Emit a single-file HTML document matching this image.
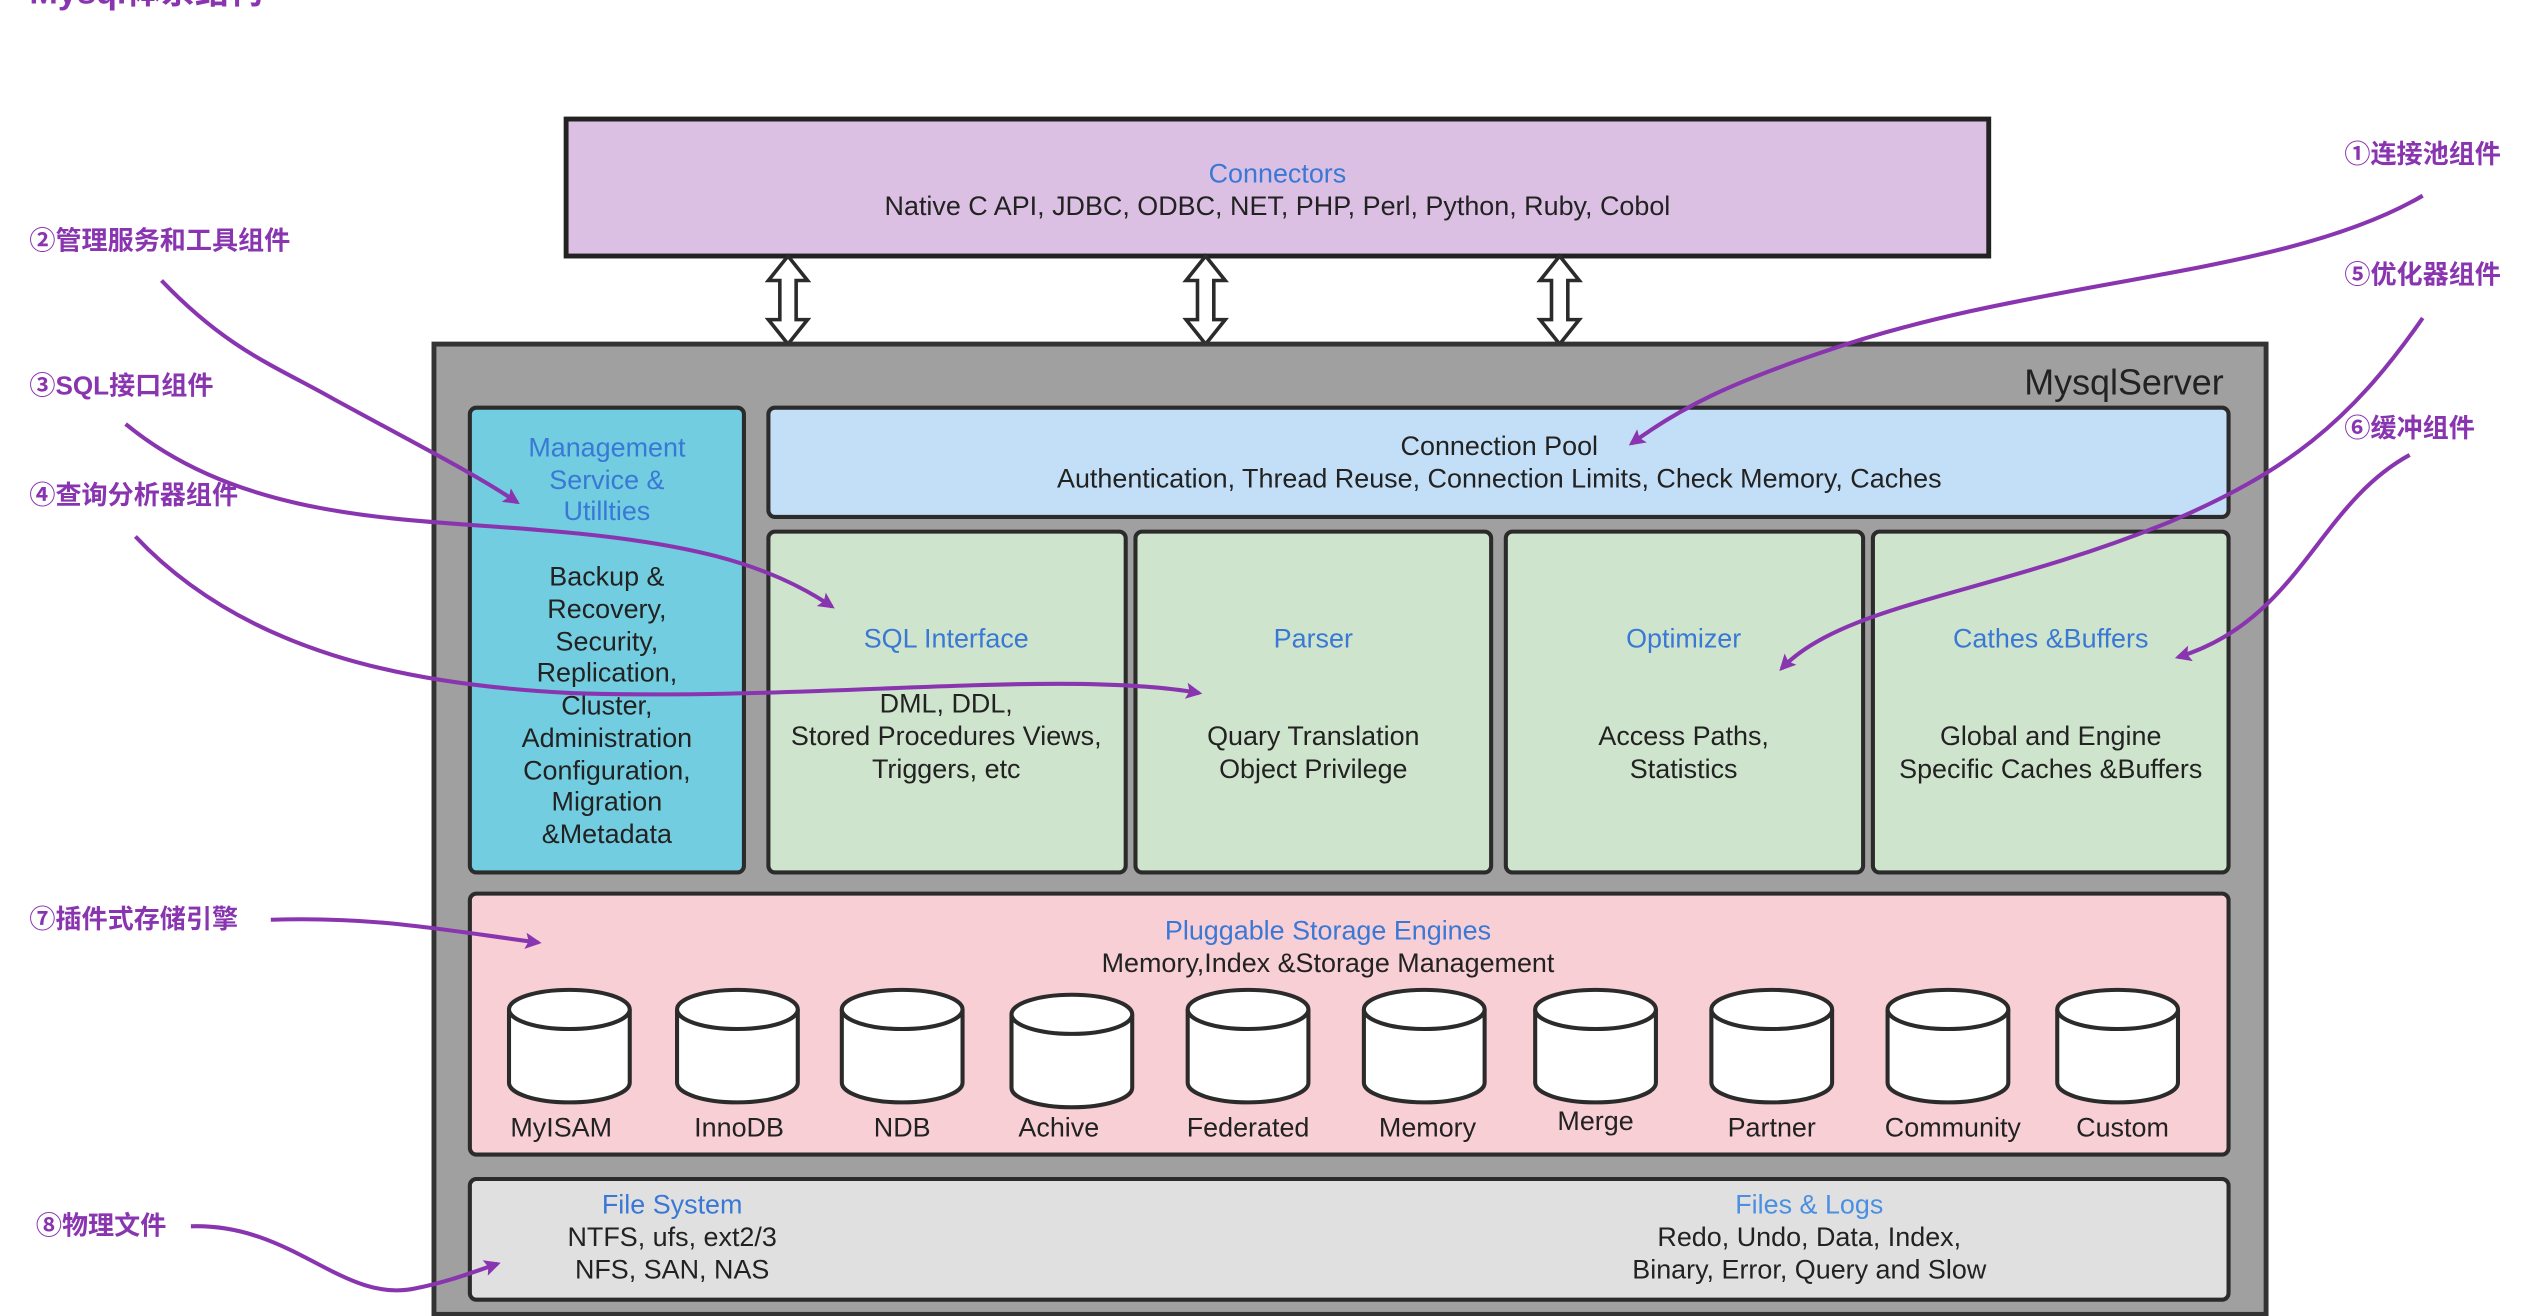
<!DOCTYPE html>
<html><head><meta charset="utf-8"><style>
html,body{margin:0;padding:0;background:#fff;}
svg{display:block;}
text{font-family:"Liberation Sans","Noto Sans CJK SC",sans-serif;}
.b{fill:#3a78d6;font-size:16.5px;text-anchor:middle;}
.t{fill:#222;font-size:16.5px;text-anchor:middle;}
.p{fill:#8a35b0;font-size:16px;font-weight:bold;}
.c{fill:none;stroke:#8a35b0;stroke-width:2.5;marker-end:url(#ah);}
.box{stroke:#2b2b2b;stroke-width:2.5;}
</style></head><body>
<svg width="2532" height="1316" viewBox="0 0 1552 807" preserveAspectRatio="none" xmlns="http://www.w3.org/2000/svg">
<defs>
<marker id="ah" markerWidth="10" markerHeight="10" refX="8" refY="5" orient="auto" markerUnits="userSpaceOnUse" viewBox="0 0 10 10">
<path d="M0,0 L10,5 L0,10 L2,5 Z" fill="#8a35b0"/></marker>
<g id="dbl"><path d="M0,-27 L12,-12 L5,-12 L5,12 L12,12 L0,27 L-12,12 L-5,12 L-5,-12 L-12,-12 Z" fill="#fff" stroke="#2b2b2b" stroke-width="2.2" stroke-linejoin="miter"/></g>
<g id="cyl"><path d="M-37,0 L-37,45 A37,12 0 0 0 37,45 L37,0" fill="#fff" stroke="#2b2b2b" stroke-width="2.5"/><ellipse cx="0" cy="0" rx="37" ry="12" fill="#fff" stroke="#2b2b2b" stroke-width="2.5"/></g>
</defs>
<text x="18" y="2" style="font-size:21px;fill:#8a35b0;font-weight:bold">Mysql体系结构</text>

<rect x="347" y="73" width="872" height="84" fill="#dbc0e4" stroke="#222" stroke-width="3"/>
<text class="b" x="783" y="112">Connectors</text>
<text class="t" x="783" y="132">Native C API, JDBC, ODBC, NET, PHP, Perl, Python, Ruby, Cobol</text>

<use href="#dbl" x="483" y="184"/><use href="#dbl" x="739" y="184"/><use href="#dbl" x="956" y="184"/>

<rect x="266" y="211" width="1123" height="595" fill="#a0a0a0" stroke="#333" stroke-width="3"/>
<text x="1363" y="242" style="font-size:22px;fill:#222;text-anchor:end">MysqlServer</text>

<rect class="box" x="288" y="250" width="168" height="285" rx="4" fill="#72cde0"/>
<text class="b"><tspan x="372" y="280">Management</tspan><tspan x="372" y="300">Service &amp;</tspan><tspan x="372" y="319">Utillties</tspan></text>
<text class="t"><tspan x="372" y="359">Backup &amp;</tspan><tspan x="372" y="379">Recovery,</tspan><tspan x="372" y="399">Security,</tspan><tspan x="372" y="418">Replication,</tspan><tspan x="372" y="438">Cluster,</tspan><tspan x="372" y="458">Administration</tspan><tspan x="372" y="478">Configuration,</tspan><tspan x="372" y="497">Migration</tspan><tspan x="372" y="517">&amp;Metadata</tspan></text>

<rect class="box" x="471" y="250" width="895" height="67" rx="4" fill="#c3dff7"/>
<text class="t" x="919" y="279">Connection Pool</text>
<text class="t" x="919" y="299">Authentication, Thread Reuse, Connection Limits, Check Memory, Caches</text>

<rect class="box" x="471" y="326" width="219" height="209" rx="4" fill="#cfe4cc"/>
<rect class="box" x="696" y="326" width="218" height="209" rx="4" fill="#cfe4cc"/>
<rect class="box" x="923" y="326" width="219" height="209" rx="4" fill="#cfe4cc"/>
<rect class="box" x="1148" y="326" width="218" height="209" rx="4" fill="#cfe4cc"/>
<text class="b" x="580" y="397">SQL Interface</text>
<text class="t"><tspan x="580" y="437">DML, DDL,</tspan><tspan x="580" y="457">Stored Procedures Views,</tspan><tspan x="580" y="477">Triggers, etc</tspan></text>
<text class="b" x="805" y="397">Parser</text>
<text class="t"><tspan x="805" y="457">Quary Translation</tspan><tspan x="805" y="477">Object Privilege</tspan></text>
<text class="b" x="1032" y="397">Optimizer</text>
<text class="t"><tspan x="1032" y="457">Access Paths,</tspan><tspan x="1032" y="477">Statistics</tspan></text>
<text class="b" x="1257" y="397">Cathes &amp;Buffers</text>
<text class="t"><tspan x="1257" y="457">Global and Engine</tspan><tspan x="1257" y="477">Specific Caches &amp;Buffers</tspan></text>

<rect class="box" x="288" y="548" width="1078" height="160" rx="4" fill="#f7cfd5"/>
<text class="b" x="814" y="576">Pluggable Storage Engines</text>
<text class="t" x="814" y="596">Memory,Index &amp;Storage Management</text>
<use href="#cyl" x="349" y="619"/><use href="#cyl" x="452" y="619"/><use href="#cyl" x="553" y="619"/><use href="#cyl" x="657" y="622"/><use href="#cyl" x="765" y="619"/><use href="#cyl" x="873" y="619"/><use href="#cyl" x="978" y="619"/><use href="#cyl" x="1086" y="619"/><use href="#cyl" x="1194" y="619"/><use href="#cyl" x="1298" y="619"/>
<text class="t"><tspan x="344" y="697">MyISAM</tspan><tspan x="453" y="697">InnoDB</tspan><tspan x="553" y="697">NDB</tspan><tspan x="649" y="697">Achive</tspan><tspan x="765" y="697">Federated</tspan><tspan x="875" y="697">Memory</tspan><tspan x="978" y="693">Merge</tspan><tspan x="1086" y="697">Partner</tspan><tspan x="1197" y="697">Community</tspan><tspan x="1301" y="697">Custom</tspan></text>

<rect class="box" x="288" y="723" width="1078" height="74" rx="4" fill="#e0e0e0"/>
<text class="b" x="412" y="744">File System</text>
<text class="t"><tspan x="412" y="764">NTFS, ufs, ext2/3</tspan><tspan x="412" y="784">NFS, SAN, NAS</tspan></text>
<text class="b" x="1109" y="744" style="fill:#4a90e2">Files &amp; Logs</text>
<text class="t"><tspan x="1109" y="764">Redo, Undo, Data, Index,</tspan><tspan x="1109" y="784">Binary, Error, Query and Slow</tspan></text>

<text class="p" x="1437" y="100">①连接池组件</text>
<text class="p" x="18" y="153">②管理服务和工具组件</text>
<text class="p" x="18" y="242">③SQL接口组件</text>
<text class="p" x="18" y="309">④查询分析器组件</text>
<text class="p" x="1437" y="174">⑤优化器组件</text>
<text class="p" x="1437" y="268">⑥缓冲组件</text>
<text class="p" x="18" y="569">⑦插件式存储引擎</text>
<text class="p" x="22" y="757">⑧物理文件</text>

<path class="c" d="M1485,120 C1400,170 1250,170 1120,215 C1060,235 1030,250 1000,272"/>
<path class="c" d="M99,172 C140,215 170,225 205,245 C260,275 290,290 317,308"/>
<path class="c" d="M77,260 C150,320 250,318 330,325 C420,332 470,345 510,372"/>
<path class="c" d="M83,329 C150,400 250,420 350,425 C500,430 650,410 735,425"/>
<path class="c" d="M1485,195 C1440,260 1400,290 1330,320 C1220,365 1130,370 1092,410"/>
<path class="c" d="M1477,279 C1420,310 1410,380 1335,403"/>
<path class="c" d="M166,564 C230,562 270,570 330,578"/>
<path class="c" d="M117,752 C180,750 210,800 255,790 C275,786 290,780 305,775"/>
</svg>
</body></html>
